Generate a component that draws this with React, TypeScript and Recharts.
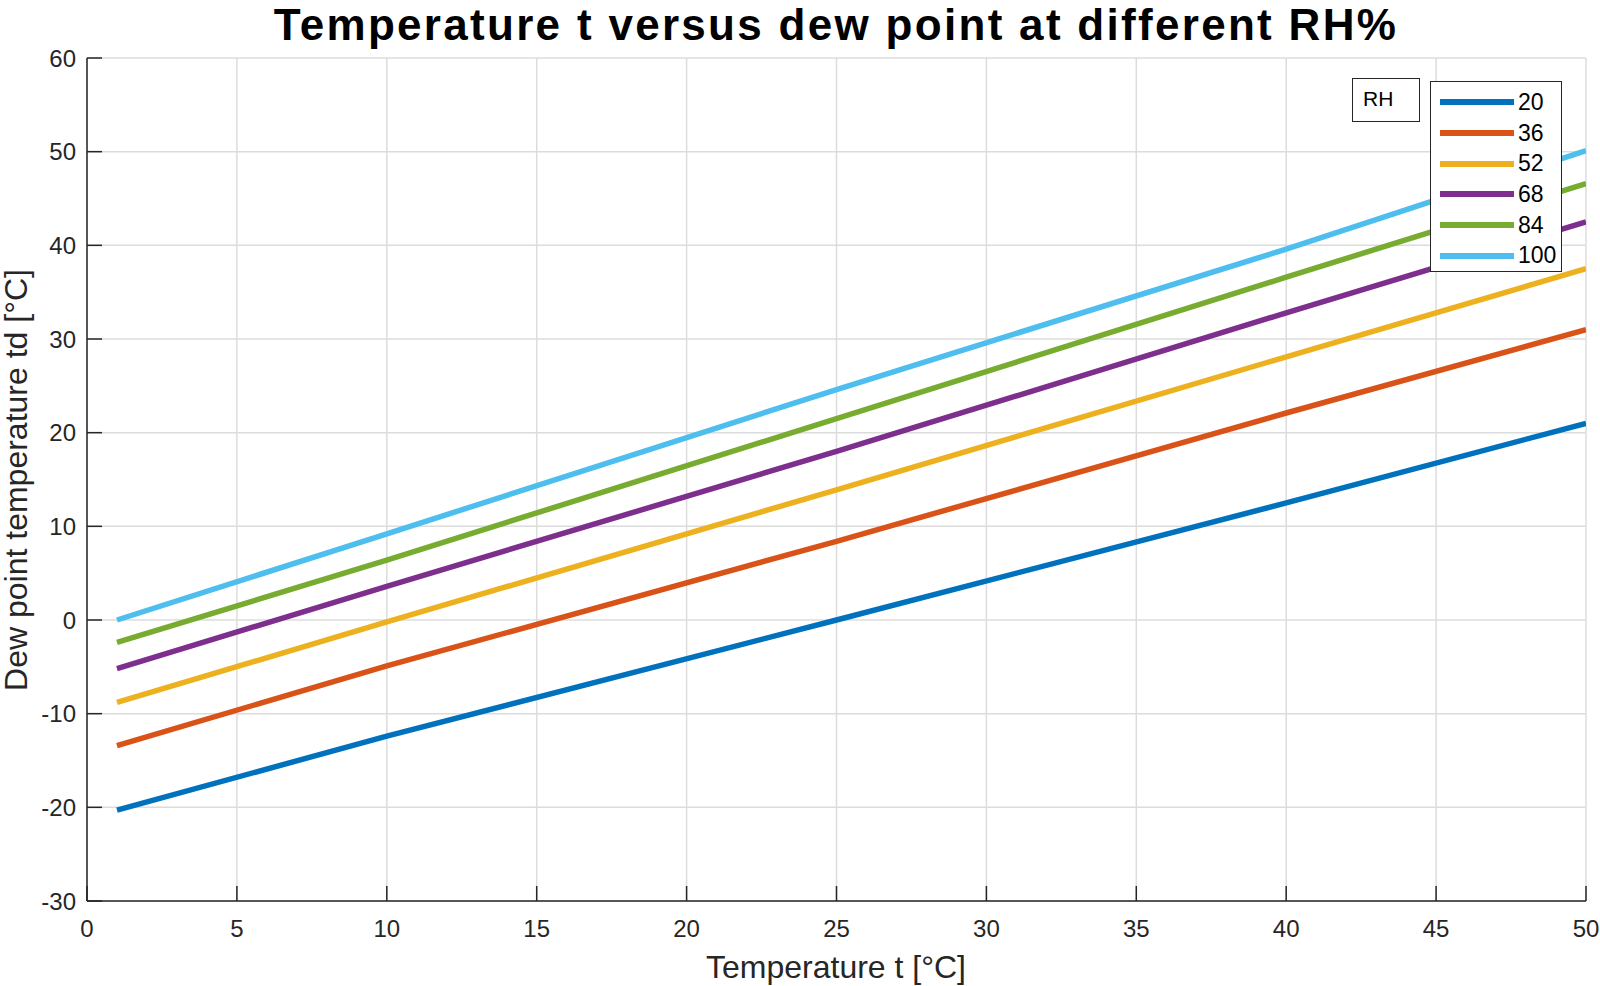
import { LineChart, Line, XAxis, YAxis, CartesianGrid, Legend } from "recharts"

// temperature t [°C] where the curves were read
const temps = [1, 10, 25, 40, 50]

// dew point td [°C] per relative humidity
const rh20 = [-20.3, -12.4, 0.0, 12.5, 21.0]
const rh36 = [-13.4, -4.9, 8.4, 22.1, 31.0]
const rh52 = [-8.8, -0.2, 13.9, 28.1, 37.5]
const rh68 = [-5.2, 3.6, 18.0, 32.8, 42.5]
const rh84 = [-2.4, 6.4, 21.5, 36.6, 46.6]
const rh100 = [0.0, 9.2, 24.6, 39.6, 50.1]

const xTicks = [0, 5, 10, 15, 20, 25, 30, 35, 40, 45, 50]
const yTicks = [-30, -20, -10, 0, 10, 20, 30, 40, 50, 60]

const series = [
  { name: "20", values: rh20, color: "#0072BD" },
  { name: "36", values: rh36, color: "#D95319" },
  { name: "52", values: rh52, color: "#EDB120" },
  { name: "68", values: rh68, color: "#7E2F8E" },
  { name: "84", values: rh84, color: "#77AC30" },
  { name: "100", values: rh100, color: "#4DBEEE" },
]

const data = temps.map((t, i) => {
  const row: Record<string, number> = { t }
  series.forEach((s) => (row["rh" + s.name] = s.values[i]))
  return row
})

const FONT = '"Liberation Sans", Arial, Helvetica, sans-serif'
const INK = "#262626"
const axisLine = { stroke: INK, strokeWidth: 1.5 }
const tickStyle = { fontSize: 24, fill: INK }

// legend keeps the plotting order (recharts sorts by value otherwise)
function LegendBox() {
  return (
    <div
      style={{
        width: 132,
        height: 191,
        border: `1px solid ${INK}`,
        background: "#fff",
        boxSizing: "border-box",
        paddingTop: 5,
      }}
    >
      {series.map((s) => (
        <div key={s.name} style={{ display: "flex", alignItems: "center", height: 30.7 }}>
          <div style={{ width: 74, height: 6, background: s.color, marginLeft: 9 }} />
          <span style={{ marginLeft: 4, fontSize: 23, color: "#000", lineHeight: 1 }}>{s.name}</span>
        </div>
      ))}
    </div>
  )
}

export default function App() {
  return (
    <div style={{ position: "absolute", left: 0, top: 0, width: 1600, height: 986, background: "#fff", fontFamily: FONT }}>
      <div
        style={{
          position: "absolute",
          left: 0,
          width: 1672,
          top: 0,
          textAlign: "center",
          fontSize: 44,
          fontWeight: "bold",
          letterSpacing: 2.3,
          lineHeight: "50px",
          color: "#000",
          whiteSpace: "nowrap",
        }}
      >
        Temperature t versus dew point at different RH%
      </div>

      <LineChart width={1600} height={986} data={data} margin={{ top: 58, right: 14, bottom: 0, left: 0 }}>
        <CartesianGrid stroke="#dcdcdc" strokeWidth={1.5} />
        <XAxis
          dataKey="t"
          type="number"
          domain={[0, 50]}
          ticks={xTicks}
          height={85}
          axisLine={axisLine}
          tickLine={axisLine}
          tickSize={-15}
          tickMargin={34}
          tick={tickStyle}
          allowDataOverflow
        />
        <XAxis
          xAxisId="top"
          orientation="top"
          dataKey="t"
          type="number"
          domain={[0, 50]}
          ticks={xTicks}
          height={0}
          axisLine={axisLine}
          tickLine={axisLine}
          tickSize={-15}
          tick={false}
        />
        <YAxis
          type="number"
          domain={[-30, 60]}
          ticks={yTicks}
          width={87}
          axisLine={axisLine}
          tickLine={axisLine}
          tickSize={-15}
          tickMargin={26}
          tick={tickStyle}
          allowDataOverflow
        />
        <YAxis
          yAxisId="right"
          orientation="right"
          type="number"
          domain={[-30, 60]}
          ticks={yTicks}
          width={0}
          axisLine={axisLine}
          tickLine={axisLine}
          tickSize={-15}
          tick={false}
        />
        <Legend
          layout="vertical"
          align="center"
          verticalAlign="middle"
          content={<LegendBox />}
          wrapperStyle={{ left: 1430, top: 81, width: 132, height: 191 }}
        />
        {series.map((s) => (
          <Line
            key={s.name}
            name={s.name}
            dataKey={"rh" + s.name}
            type="linear"
            stroke={s.color}
            strokeWidth={5.5}
            dot={false}
            activeDot={false}
            isAnimationActive={false}
          />
        ))}
      </LineChart>

      <div
        style={{
          position: "absolute",
          left: 1352,
          top: 78,
          width: 68,
          height: 44,
          border: `1.5px solid ${INK}`,
          boxSizing: "border-box",
          background: "#fff",
          fontSize: 21,
          lineHeight: "40px",
          paddingLeft: 10,
          color: "#000",
        }}
      >
        RH
      </div>

      <div
        style={{
          position: "absolute",
          left: 0,
          width: 1672,
          top: 948,
          textAlign: "center",
          fontSize: 32,
          lineHeight: "38px",
          color: INK,
          whiteSpace: "nowrap",
        }}
      >
        Temperature t [°C]
      </div>

      <div
        style={{
          position: "absolute",
          left: 16,
          top: 480,
          transform: "translate(-50%, -50%) rotate(-90deg)",
          fontSize: 32,
          lineHeight: "32px",
          color: INK,
          whiteSpace: "nowrap",
        }}
      >
        Dew point temperature td [°C]
      </div>
    </div>
  )
}
